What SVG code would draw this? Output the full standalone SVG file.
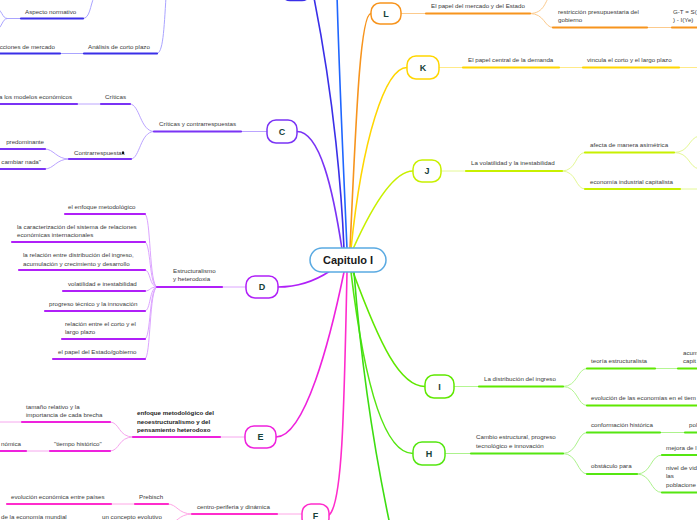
<svg xmlns="http://www.w3.org/2000/svg" width="697" height="520" viewBox="0 0 697 520">
<style>
.t{font-family:"Liberation Sans",Arial,sans-serif;font-size:6.2px;fill:#3a3a3a}
.tb{font-family:"Liberation Sans",Arial,sans-serif;font-size:6.2px;fill:#222;font-weight:bold}
.n{font-family:"Liberation Sans",Arial,sans-serif;font-size:9px;font-weight:bold;fill:#16423a;text-anchor:middle}
.e{text-anchor:end}
.k,.l,.m{fill:none;stroke-linecap:round}
.k{stroke-width:2.2}
.l{stroke-width:1}
.m{stroke-width:1.6}
.box{fill:#fff;stroke-width:1.5}
.bl{stroke:#3a2fe8}.blL{stroke:#aaa4ff}
.cv{stroke:#7a33f5}.cvL{stroke:#bba4ff}
.dv{stroke:#b020f8}.dvL{stroke:#dca4ff}
.ev{stroke:#ee22dd}.evL{stroke:#f6a6ee}
.fv{stroke:#ff2ccc}.fvL{stroke:#ffa6e6}
.lv{stroke:#f7941d}.lvL{stroke:#fcca8c}
.kv{stroke:#ffd600}.kvL{stroke:#ffea88}
.jv{stroke:#c8f000}.jvL{stroke:#e4f894}
.iv{stroke:#5fe800}.ivL{stroke:#b4f692}
.hv{stroke:#55e611}.hvL{stroke:#acf28c}
</style>

<g id="connectors">
  <path class="m" stroke="#3a2fe8" d="M344,249 C342,200 335,100 312,-12"/>
  <path class="m" stroke="#1f66ff" d="M347,249 C345,200 340,100 337,-5"/>
  <path class="m lv" d="M350,249 C356,120 360,13.5 371,13.5"/>
  <path class="m kv" d="M351,249 C362,140 385,67.5 407,67.5"/>
  <path class="m jv" d="M353,249 C375,200 395,171 413,171"/>
  <path class="m cv" d="M297,131.5 C320,131.5 333,190 342,249"/>
  <path class="m dv" d="M278,287 C302,287 318,279 330,271"/>
  <path class="m ev" d="M276,437 C305,437 330,340 344,272"/>
  <path class="m fv" d="M329,515 C342,505 344,420 347,272"/>
  <path class="m iv" d="M353,272 C380,345 400,386.5 425,386.5"/>
  <path class="m hv" d="M351,272 C365,390 385,453.5 413,453.5"/>
  <path class="m" stroke="#3ddd11" d="M354,272 C360,350 372,440 390,525"/>

  <path class="l blL" d="M83,18.5 C90,18.5 90,6 94,-3"/>
  <path class="l blL" d="M7,18.5 H21"/>
  <path class="l blL" d="M7,18.5 C2,18.5 2,9 -4,8"/>
  <path class="l blL" d="M7,18.5 C2,18.5 2,29 -4,30"/>
  <path class="l blL" d="M60,53.5 H84"/>
  <path class="l blL" d="M157,53.5 C163,53.5 164,30 166,-3"/>
  <path class="l cvL" d="M241,131.5 H267"/>
  <path class="l cvL" d="M154,131.5 C140,131.5 140,104 130,104"/>
  <path class="l cvL" d="M154,131.5 C140,131.5 140,159 131,159"/>
  <path class="l cvL" d="M77,104 H101"/>
  <path class="l cvL" d="M69,159 C56,159 54,149 45,149"/>
  <path class="l cvL" d="M69,159 C56,159 54,169 45,169"/>
  <path class="l dvL" d="M222,287 H246"/>
  <path class="l dvL" d="M157,287 C149,287 151,214 145,214"/>
  <path class="l dvL" d="M157,287 C149,287 151,242 145,242"/>
  <path class="l dvL" d="M157,287 C149,287 151,270 145,270"/>
  <path class="l dvL" d="M157,287 C149,287 151,291 145,291"/>
  <path class="l dvL" d="M157,287 C149,287 151,311 145,311"/>
  <path class="l dvL" d="M157,287 C149,287 151,339 145,339"/>
  <path class="l dvL" d="M157,287 C149,287 151,359 145,359"/>
  <path class="l evL" d="M220,437 H245"/>
  <path class="l evL" d="M133,437 C118,437 120,422 110,422"/>
  <path class="l evL" d="M133,437 C118,437 120,451 110,451"/>
  <path class="l evL" d="M0,422 H22"/>
  <path class="l evL" d="M26,451 H50"/>
  <path class="l fvL" d="M277,514 H302"/>
  <path class="l fvL" d="M192,514 C178,514 177,504 168,504"/>
  <path class="l fvL" d="M192,514 C178,514 177,524 168,524"/>
  <path class="l fvL" d="M111,504 H135"/>
  <path class="l lvL" d="M401,13.5 H426"/>
  <path class="l lvL" d="M530,13.5 C545,13.5 545,0 550,-4"/>
  <path class="l lvL" d="M530,13.5 C545,13.5 544,27.5 553,27.5"/>
  <path class="l lvL" d="M647,27.5 H672"/>
  <path class="l kvL" d="M439,67.5 H463"/>
  <path class="l kvL" d="M559,67.5 H583"/>
  <path class="l kvL" d="M679,67.5 H697"/>
  <path class="l jvL" d="M441,171 H466"/>
  <path class="l jvL" d="M562,171 C577,171 575,152.5 585,152.5"/>
  <path class="l jvL" d="M562,171 C577,171 575,189 585,189"/>
  <path class="l jvL" d="M674,152.5 C690,152.5 688,138 699,136"/>
  <path class="l jvL" d="M674,152.5 C690,152.5 688,167 699,169"/>
  <path class="l jvL" d="M680,189 H697"/>
  <path class="l ivL" d="M454,386.5 H479"/>
  <path class="l ivL" d="M563,386.5 C578,386.5 577,368.5 587,368.5"/>
  <path class="l ivL" d="M563,386.5 C578,386.5 577,405.5 587,405.5"/>
  <path class="l ivL" d="M655,368.5 H678"/>
  <path class="l hvL" d="M445,453.5 H471"/>
  <path class="l hvL" d="M563,453.5 C578,453.5 577,432.5 587,432.5"/>
  <path class="l hvL" d="M563,453.5 C578,453.5 577,474 587,474"/>
  <path class="l hvL" d="M660,432.5 H685"/>
  <path class="l hvL" d="M637,474 C652,474 650,455 662,455"/>
  <path class="l hvL" d="M637,474 C652,474 650,492.5 662,492.5"/>
</g>

<g id="node-center">
  <rect x="310" y="248" width="76" height="24" rx="12" class="box" stroke="#5aaae2"/>
  <text x="348" y="264" font-family="Liberation Sans,Arial,sans-serif" font-size="11" font-weight="bold" fill="#1a1a1a" text-anchor="middle">Capitulo I</text>
</g>
<g id="node-top"><rect x="281" y="-22" width="30" height="22.5" rx="9" class="box bl"/></g>
<g id="node-L"><rect x="371" y="3" width="30" height="21" rx="9" class="box lv"/><text class="n" x="386" y="16.7">L</text></g>
<g id="node-K"><rect x="407" y="56" width="32" height="23" rx="9" class="box kv"/><text class="n" x="423" y="70.7">K</text></g>
<g id="node-J"><rect x="413" y="160" width="28" height="22" rx="9" class="box jv"/><text class="n" x="427" y="174.2">J</text></g>
<g id="node-C"><rect x="267" y="120" width="30" height="23" rx="9" class="box cv"/><text class="n" x="282" y="134.7">C</text></g>
<g id="node-D"><rect x="246" y="276" width="32" height="22" rx="9" class="box dv"/><text class="n" x="262" y="290.2">D</text></g>
<g id="node-E"><rect x="245" y="426" width="31" height="22" rx="9" class="box ev"/><text class="n" x="260.5" y="440.2">E</text></g>
<g id="node-F"><rect x="302" y="504" width="27" height="23" rx="9" class="box fv"/><text class="n" x="315.5" y="519.3">F</text></g>
<g id="node-I"><rect x="425" y="375" width="29" height="23" rx="9" class="box iv"/><text class="n" x="439.5" y="389.7">I</text></g>
<g id="node-H"><rect x="413" y="442" width="32" height="23" rx="9" class="box hv"/><text class="n" x="429" y="456.7">H</text></g>

<g id="t-aspecto"><path class="k bl" d="M21,18.5 H83"/><text class="t" x="25" y="14">Aspecto normativo</text></g>
<g id="t-analisis"><path class="k bl" d="M84,53.5 H157"/><text class="t" x="88" y="49">Análisis de corto plazo</text></g>
<g id="t-cciones"><path class="k bl" d="M0,53.5 H60"/><text class="t e" x="55" y="49">cciones de mercado</text></g>

<g id="t-criticas-contra"><path class="k cv" d="M154,131.5 H241"/><text class="t" x="159" y="126">Críticas y contrarrespuestas</text></g>
<g id="t-criticas"><path class="k cv" d="M101,104 H130"/><text class="t" x="105" y="99">Críticas</text></g>
<g id="t-modelos"><path class="k cv" d="M0,104 H77"/><text class="t e" x="72" y="99">a los modelos económicos</text></g>
<g id="t-contra"><path class="k cv" d="M69,159 H131"/><text class="t" x="74" y="155">Contrarrespuestas</text><rect x="122" y="151.5" width="2" height="2.5" fill="#111"/></g>
<g id="t-predominante"><path class="k cv" d="M0,149 H45"/><text class="t e" x="44" y="144">predominante</text></g>
<g id="t-cambiar"><path class="k cv" d="M0,169 H45"/><text class="t e" x="41" y="164">cambiar nada"</text></g>

<g id="t-estructuralismo"><path class="k dv" d="M157,287 H222"/><text class="t" x="173" y="273">Estructuralismo</text><text class="t" x="173" y="281">y heterodoxia</text></g>
<g id="t-d1"><path class="k dv" d="M65,214 H145"/><text class="t" x="68" y="209">el enfoque metodológico</text></g>
<g id="t-d2"><path class="k dv" d="M12,242 H145"/><text class="t" x="17" y="229">la caracterización del sistema de relaciones</text><text class="t" x="17" y="237">económicas internacionales</text></g>
<g id="t-d3"><path class="k dv" d="M19,270 H145"/><text class="t" x="23" y="257">la relación entre distribución del ingreso,</text><text class="t" x="23" y="266">acumulación y crecimiento y desarrollo</text></g>
<g id="t-d4"><path class="k dv" d="M63,291 H145"/><text class="t" x="68" y="286">volatilidad e inestabilidad</text></g>
<g id="t-d5"><path class="k dv" d="M45,311 H145"/><text class="t" x="49" y="306">progreso técnico y la innovación</text></g>
<g id="t-d6"><path class="k dv" d="M62,339 H145"/><text class="t" x="65" y="326">relación entre el corto y el</text><text class="t" x="65" y="334">largo plazo</text></g>
<g id="t-d7"><path class="k dv" d="M53,359 H145"/><text class="t" x="58" y="354">el papel del Estado/gobierno</text></g>

<g id="t-enfoque"><path class="k ev" d="M133,437 H220"/><text class="tb" x="137" y="414.5">enfoque metodológico del</text><text class="tb" x="137" y="423.5">neoestructuralismo y del</text><text class="tb" x="137" y="431.5">pensamiento heterodoxo</text></g>
<g id="t-tamano"><path class="k ev" d="M22,422 H110"/><text class="t" x="26" y="409">tamaño relativo y la</text><text class="t" x="26" y="417">importancia de cada brecha</text></g>
<g id="t-tiempo"><path class="k ev" d="M50,451 H110"/><text class="t" x="54" y="446">"tiempo histórico"</text></g>
<g id="t-nomica"><path class="k ev" d="M0,451 H26"/><text class="t e" x="21" y="446">nómica</text></g>

<g id="t-centro"><path class="k fv" d="M192,514 H277"/><text class="t" x="197" y="509">centro-periferia y dinámica</text></g>
<g id="t-prebisch"><path class="k fv" d="M135,504 H168"/><text class="t" x="139" y="499">Prebisch</text></g>
<g id="t-evolucion-paises"><path class="k fv" d="M7,504 H111"/><text class="t" x="11" y="499">evolución económica entre países</text></g>
<g id="t-concepto"><text class="t" x="102" y="519">un concepto evolutivo</text></g>
<g id="t-mundial"><text class="t" x="1" y="519">de la economía mundial</text></g>

<g id="t-mercado"><path class="k lv" d="M426,13.5 H530"/><text class="t" x="431" y="8">El papel del mercado y del Estado</text></g>
<g id="t-restriccion"><path class="k lv" d="M553,27.5 H647"/><text class="t" x="558" y="14">restricción presupuestaria del</text><text class="t" x="558" y="22">gobierno</text></g>
<g id="t-gt"><path class="k lv" d="M672,27.5 H697"/><text class="t" x="673" y="14">G-T = S(</text><text class="t" x="673" y="22">) - I(Ye)</text></g>

<g id="t-demanda"><path class="k kv" d="M463,67.5 H559"/><text class="t" x="468" y="62">El papel central de la demanda</text></g>
<g id="t-vincula"><path class="k kv" d="M583,67.5 H679"/><text class="t" x="587" y="62">vincula el corto y el largo plazo</text></g>

<g id="t-volatilidad"><path class="k jv" d="M466,171 H562"/><text class="t" x="471" y="165">La volatilidad y la inestabilidad</text></g>
<g id="t-afecta"><path class="k jv" d="M585,152.5 H674"/><text class="t" x="590" y="147">afecta de manera asimétrica</text></g>
<g id="t-industrial"><path class="k jv" d="M585,189 H680"/><text class="t" x="590" y="184">economía industrial capitalista</text></g>

<g id="t-distribucion"><path class="k iv" d="M479,386.5 H563"/><text class="t" x="484" y="381">La distribución del ingreso</text></g>
<g id="t-teoria"><path class="k iv" d="M587,368.5 H655"/><text class="t" x="591" y="363">teoría estructuralista</text></g>
<g id="t-acum"><path class="k iv" d="M678,368.5 H697"/><text class="t" x="683" y="355">acum</text><text class="t" x="683" y="363">capit</text></g>
<g id="t-evolucion-tiem"><path class="k iv" d="M587,405.5 H697"/><text class="t" x="591" y="400">evolución de las economías en el tiem</text></g>

<g id="t-cambio"><path class="k hv" d="M471,453.5 H563"/><text class="t" x="476" y="439">Cambio estructural, progreso</text><text class="t" x="476" y="448">tecnológico  e innovación</text></g>
<g id="t-conformacion"><path class="k hv" d="M587,432.5 H660"/><text class="t" x="591" y="427">conformación histórica</text></g>
<g id="t-pol"><path class="k hv" d="M685,432.5 H697"/><text class="t" x="689" y="427">pol</text></g>
<g id="t-obstaculo"><path class="k hv" d="M587,474 H637"/><text class="t" x="591" y="468">obstáculo para</text></g>
<g id="t-mejora"><path class="k hv" d="M662,455 H697"/><text class="t" x="666" y="450">mejora de l</text></g>
<g id="t-nivel"><path class="k hv" d="M662,492.5 H697"/><text class="t" x="666" y="470">nivel de vid</text><text class="t" x="666" y="478">las</text><text class="t" x="666" y="487">poblacione</text></g>
</svg>
